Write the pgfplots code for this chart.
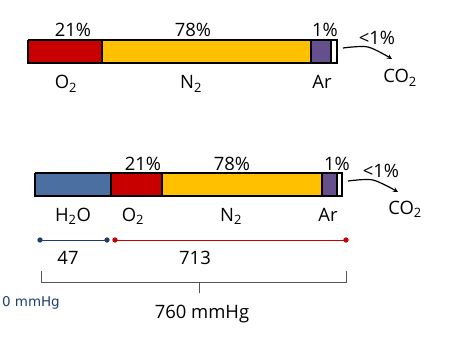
\documentclass[border=0pt]{standalone}
\usepackage{pgfplots}
\pgfplotsset{compat=1.18}
\usepackage{fontspec}
\setmainfont{Open Sans}
\newfontfamily\dv{DejaVu Sans}
\definecolor{cred}{HTML}{C80000}
\definecolor{cyel}{HTML}{FFC000}
\definecolor{cpur}{HTML}{654F8C}
\definecolor{cblu}{HTML}{4A6FA0}
\definecolor{dblu}{HTML}{1F3D70}
\definecolor{gry}{HTML}{555555}
\tikzset{
  seg/.style={draw=black, line width=1.8pt, line join=miter},
  lab/.style={font=\fontsize{18.5}{18.5}\selectfont, anchor=base, inner sep=0pt},
}
\begin{document}
\begin{tikzpicture}
\begin{axis}[
  name=ax,
  width=474bp, height=348bp, scale only axis,
  xmin=0, xmax=474, ymin=0, ymax=348, y dir=reverse,
  hide axis, clip=false,
]
% top bar
\addplot[seg, fill=cred] coordinates {(28,40) (102,40) (102,63) (28,63) (28,40)};
\addplot[seg, fill=cyel] coordinates {(102,40) (311,40) (311,63) (102,63) (102,40)};
\addplot[seg, fill=cpur] coordinates {(311,40) (331,40) (331,63) (311,63) (311,40)};
\addplot[seg, fill=white] coordinates {(331,40) (337,40) (337,63) (331,63) (331,40)};
% bottom bar
\addplot[seg, fill=cblu] coordinates {(35,173) (111,173) (111,196) (35,196) (35,173)};
\addplot[seg, fill=cred] coordinates {(111,173) (162,173) (162,196) (111,196) (111,173)};
\addplot[seg, fill=cyel] coordinates {(162,173) (322,173) (322,196) (162,196) (162,173)};
\addplot[seg, fill=cpur] coordinates {(322,173) (337,173) (337,196) (322,196) (322,173)};
\addplot[seg, fill=white] coordinates {(337,173) (342,173) (342,196) (337,196) (337,173)};
% arrows
\addplot[-stealth, line width=1.2pt, smooth] coordinates {(343,48) (368,47) (392,59)};
\addplot[-stealth, line width=1.2pt, smooth] coordinates {(348,181) (373,180) (398,192)};
% pressure lines
\addplot[dblu, line width=0.8pt, mark=*, mark size=2.2pt, mark options={fill=dblu,draw=dblu}] coordinates {(40,240) (107,240)};
\addplot[cred, line width=0.8pt, mark=*, mark size=2.2pt, mark options={fill=cred,draw=cred}] coordinates {(115,240) (346,240)};
% bracket
\addplot[gry, line width=1pt] coordinates {(41,271) (41,282) (346,282) (346,271)};
\addplot[gry, line width=1pt] coordinates {(199,282) (199,293)};
% labels top
\node[lab] at (axis cs:73,37) {21\%};
\node[lab] at (axis cs:193,37) {78\%};
\node[lab] at (axis cs:325,37) {1\%};
\node[lab] at (axis cs:377,45) {<1\%};
\node[lab] at (axis cs:66,89) {O\textsubscript{2}};
\node[lab] at (axis cs:191,89) {N\textsubscript{2}};
\node[lab] at (axis cs:322,89) {Ar};
\node[lab] at (axis cs:400,83) {CO\textsubscript{2}};
% labels bottom
\node[lab] at (axis cs:143,170) {21\%};
\node[lab] at (axis cs:232,170) {78\%};
\node[lab] at (axis cs:337,170) {1\%};
\node[lab] at (axis cs:381,177) {<1\%};
\node[lab] at (axis cs:73,221) {H\textsubscript{2}O};
\node[lab] at (axis cs:133,221) {O\textsubscript{2}};
\node[lab] at (axis cs:231,221) {N\textsubscript{2}};
\node[lab] at (axis cs:328,221) {Ar};
\node[lab] at (axis cs:405,214) {CO\textsubscript{2}};
\node[lab] at (axis cs:68,264) {47};
\node[lab] at (axis cs:195,264) {713};
\node[lab] at (axis cs:202,318) {760 mmHg};
\node[anchor=base east, text=dblu, font=\dv\fontsize{13.5}{13.5}\selectfont, inner sep=0pt] at (axis cs:60,306) {0 mmHg};
\end{axis}
\pgfresetboundingbox
\path (ax.south west) rectangle (ax.north east);
\end{tikzpicture}
\end{document}
